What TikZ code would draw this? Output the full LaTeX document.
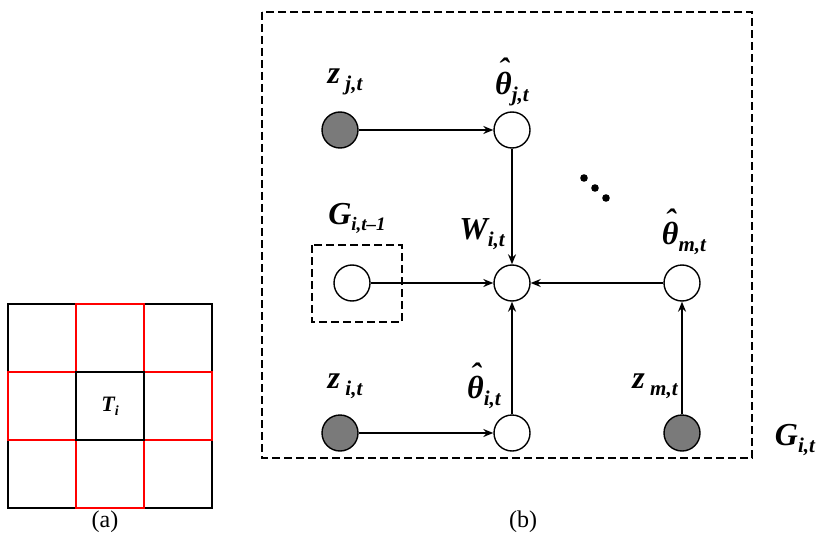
\documentclass[tikz,border=0pt]{standalone}
\usepackage{fontspec}
\setmainfont{Liberation Serif}
\usetikzlibrary{arrows.meta}
\newcommand{\hth}{\ooalign{\hfil\raisebox{0.42em}{ˆ}\hfil\cr θ}}
\newcommand{\sbx}[1]{\raisebox{-7pt}{\fontsize{21}{22}\selectfont #1}}
\begin{document}
\begin{tikzpicture}[x=1pt,y=-1pt,
 st/.style={circle,draw,line width=1.4pt,minimum size=36pt,inner sep=0pt},
 obs/.style={st,fill=gray!70!black!80},
 lat/.style={st,fill=white},
 lab/.style={font=\fontsize{32}{34}\selectfont\bfseries\itshape,inner sep=0pt},
 ar/.style={-{Stealth[length=10pt,width=8pt]},line width=1.4pt},
 cell/.style={draw,line width=1.8pt}]
\useasboundingbox (0,0) rectangle (832,540);
% (a)
\foreach \x in {8,76,144}{\foreach \y in {304,372,440}{\draw[cell] (\x,\y) rectangle ++(68,68);}}
\draw[cell,red] (76,304) rectangle ++(68,68);
\draw[cell,red] (8,372) rectangle ++(68,68);
\draw[cell,red] (144,372) rectangle ++(68,68);
\draw[cell,red] (76,440) rectangle ++(68,68);
\draw[line width=2.4pt] (76,372) rectangle ++(68,68);
\node[font=\fontsize{22}{24}\selectfont\bfseries\itshape] (ti) at (110,406) {T\raisebox{-4pt}{\fontsize{14}{16}\selectfont i}};
\node[font=\fontsize{24}{26}\selectfont\rmfamily] (la) at (105,522) {(a)};
\node[font=\fontsize{24}{26}\selectfont\rmfamily] (lb) at (523,522) {(b)};
% (b)
\draw[line width=1.8pt,dash pattern=on 8pt off 4pt] (262,12) rectangle (752,458);
\draw[line width=1.8pt,dash pattern=on 8pt off 4pt] (312,245) rectangle (402,322);
\node[obs] (zj) at (340,130) {};
\node[lat] (tj) at (512,130) {};
\node[lat] (W) at (512,283) {};
\node[lat] (G) at (352,283) {};
\node[lat] (tm) at (682,283) {};
\node[obs] (zi) at (340,433) {};
\node[lat] (ti2) at (512,433) {};
\node[obs] (zm) at (682,433) {};
\draw[ar] (zj) -- (tj);
\draw[ar] (tj) -- (W);
\draw[ar] (G) -- (W);
\draw[ar] (tm) -- (W);
\draw[ar] (ti2) -- (W);
\draw[ar] (zi) -- (ti2);
\draw[ar] (zm) -- (tm);
\node[lab] (lzj) at (345,82) {z\,\sbx{j,t}};
\node[lab] (ltj) at (512,82) {\hth\sbx{j,t}};
\node[lab] (lG) at (357,218) {G\raisebox{-6pt}{\fontsize{19}{20}\selectfont i,t\textendash1}};
\node[lab] (lW) at (482,234) {W\sbx{i,t}};
\node[lab] (ltm) at (684,232) {\hth\sbx{m,t}};
\node[lab] (lzi) at (345,386) {z\,\sbx{i,t}};
\node[lab] (lti) at (484,386) {\hth\sbx{i,t}};
\node[lab] (lzm) at (655,386) {z\,\sbx{m,t}};
\node[lab] (lGi) at (795,440) {G\sbx{i,t}};
\foreach \p in {(584,178),(595,188),(606,198)} \fill \p circle (3.8pt);
\end{tikzpicture}
\end{document}
